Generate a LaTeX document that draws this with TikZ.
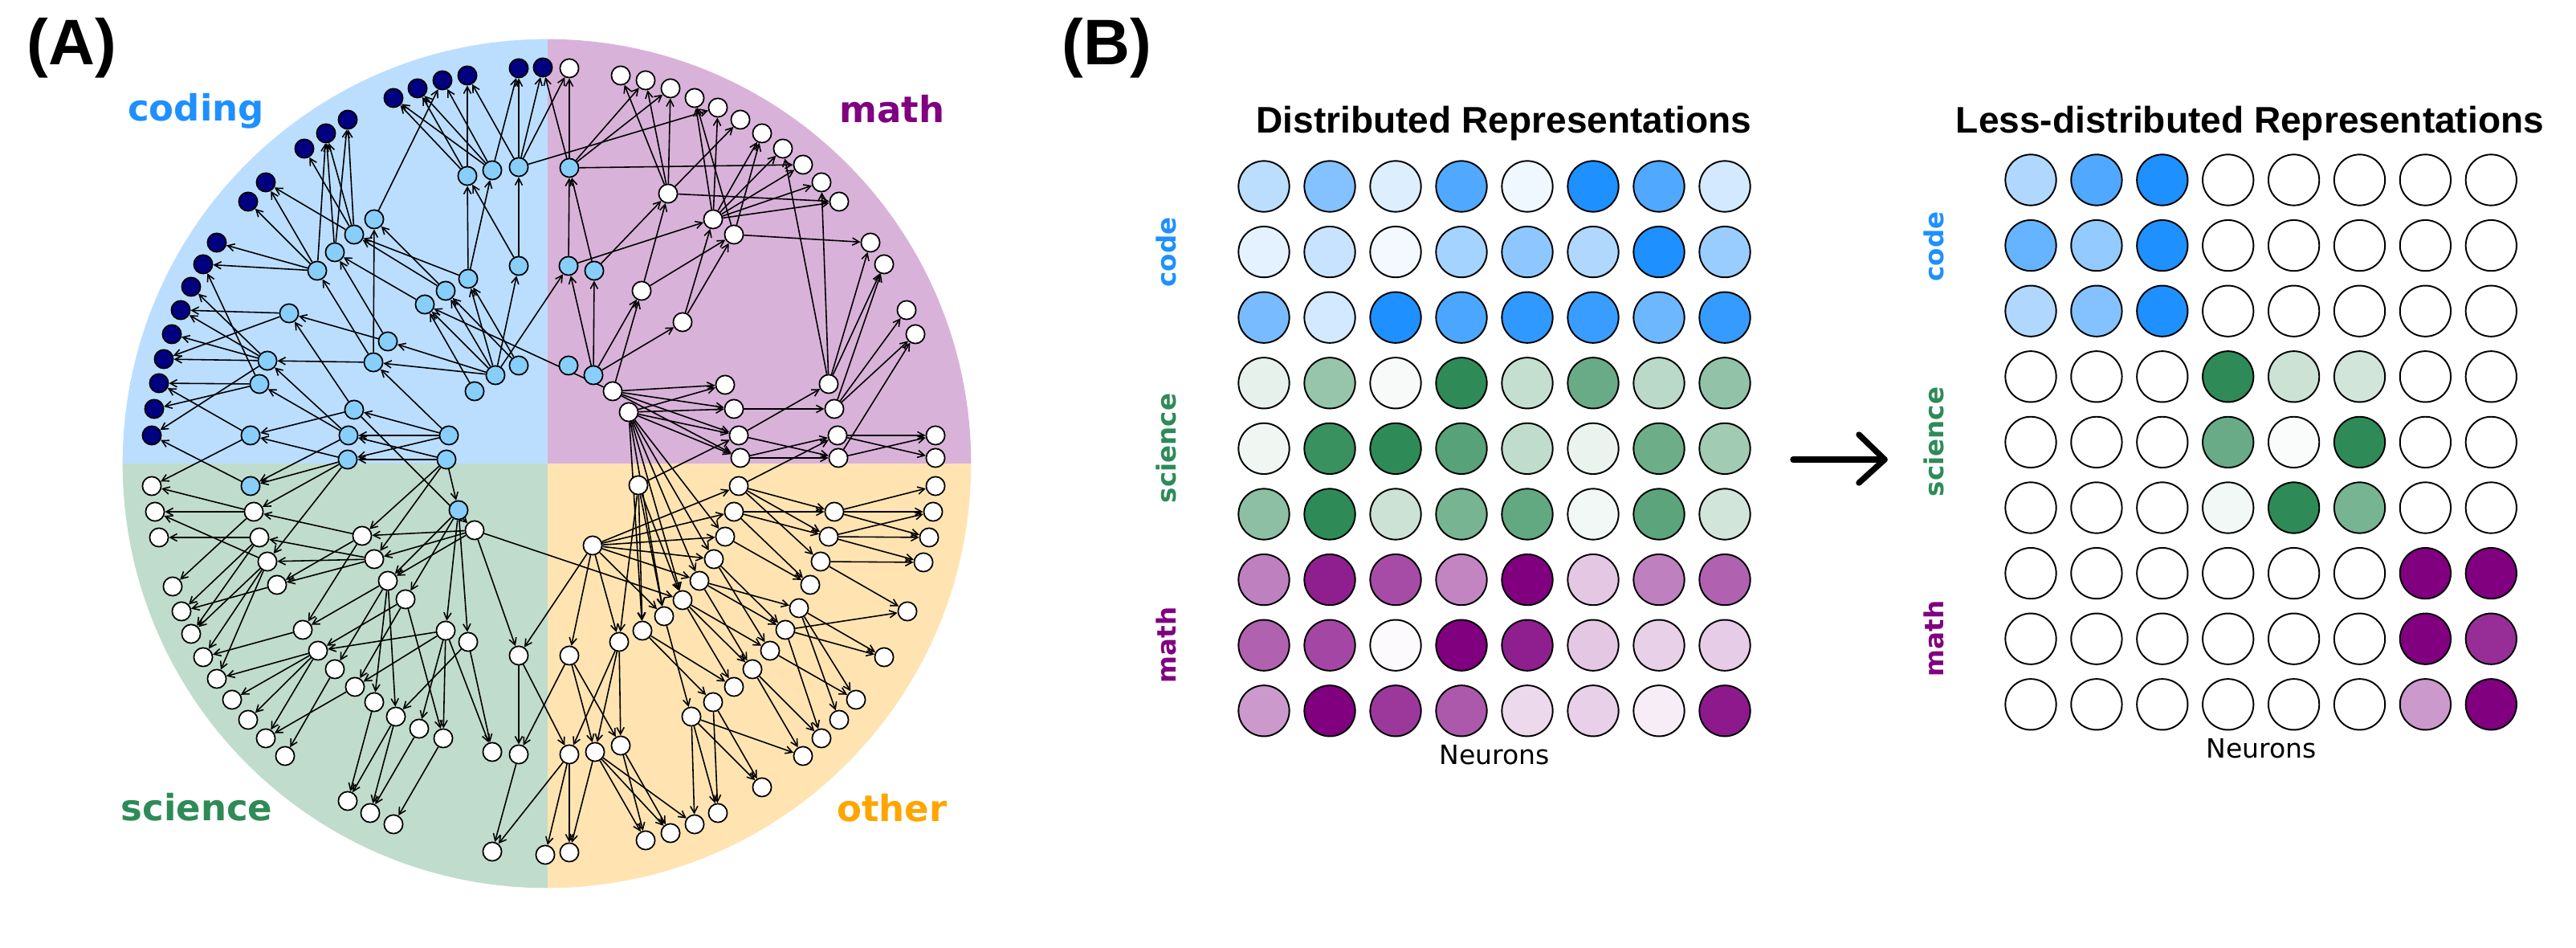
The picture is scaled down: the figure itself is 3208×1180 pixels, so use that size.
\documentclass[tikz,border=0pt]{standalone}
\usepackage{fontspec}
\setmainfont{DejaVu Sans}
\newfontfamily\arialf{Liberation Sans}
\usetikzlibrary{arrows.meta}
\definecolor{dodg}{RGB}{30,144,255}
\definecolor{seag}{RGB}{46,139,87}
\definecolor{purp}{RGB}{128,0,128}
\definecolor{orng}{RGB}{255,165,0}
\definecolor{navyc}{RGB}{0,0,128}
\definecolor{skyb}{RGB}{135,206,250}
\pgfdeclarelayer{bglayer}
\pgfdeclarelayer{edgelayer}
\pgfsetlayers{bglayer,edgelayer,main}
\tikzset{
  nd/.style={circle, draw=black, line width=0.5pt, minimum size=6.6pt, inner sep=0pt},
  dk/.style={nd, fill=navyc},
  lb/.style={nd, fill=skyb},
  wt/.style={nd, fill=white},
  edge/.style={line width=0.45pt, draw=black, -{Straight Barb[length=2.4pt,width=2.6pt]}},
  cellc/.style={circle, draw=black, line width=0.55pt, minimum size=18pt, inner sep=0pt},
  catlab/.style={anchor=base, inner sep=0pt, font={\bfseries\fontsize{12.8}{14}\selectfont}},
  vlab/.style={anchor=base, rotate=90, inner sep=0pt, font={\bfseries\fontsize{9.25}{11}\selectfont}},
  ttl/.style={anchor=base, inner sep=0pt, font={\arialf\bfseries\fontsize{13.1}{15}\selectfont}},
  neur/.style={anchor=base, inner sep=0pt, font={\fontsize{9.4}{11}\selectfont}},
  panlab/.style={anchor=base west, inner sep=0pt, font={\arialf\bfseries\fontsize{22.8}{26}\selectfont}},
  bigarrow/.style={line width=2.1pt, line cap=round, line join=round, draw=black}
}
\begin{document}
\begin{tikzpicture}[x=0.01cm,y=-0.01cm]
\useasboundingbox (0,0) rectangle (3208,1180);
\begin{pgfonlayer}{bglayer}
\fill[white] (0,0) rectangle (3208,1180);
\begin{scope}
\clip (681,577) circle[radius=5.28cm];
\fill[dodg!30] (100,0) rectangle (682,577);
\fill[purp!30] (682,0) rectangle (1300,577);
\fill[seag!30] (100,577) rectangle (682,1180);
\fill[orng!30] (682,577) rectangle (1300,1180);
\end{scope}
\end{pgfonlayer}

% ---------- panel A nodes ----------
\foreach \nm/\x/\y in {d1/490/122, d2/520/110, d3/551/100, d4/582/94, d5/646/85, d6/676/84, d7/433/149, d8/406/166, d9/379/185, d10/331/227, d11/309/251, d12/270/302, d13/253/329, d14/238/357, d15/225/386, d16/214/416, d17/204/447, d18/198/477, d19/192/509, d20/189/542}
  \node[dk] (\nm) at (\x,\y) {};
\foreach \nm/\x/\y in {c1/582/219, c2/613/212, c3/646/208, c4/466/273, c5/441/292, c6/417/314, c7/395/337, c8/583/347, c9/646/331, c10/555/362, c11/529/379, c12/360/390, c13/483/425, c14/465/451, c15/333/449, c16/323/478, c17/617/467, c18/646/455, c19/591/487, c20/441/510, c21/312/542, c22/434/542, c23/559/542, c24/433/572, c25/556/572, m1/709/209, m2/708/331, m3/740/337, m4/708/455, m5/739/467, s0/312/605, s00/571/635}
  \node[lb] (\nm) at (\x,\y) {};
\foreach \nm/\x/\y in {w1/709/85, w2/773/94, w3/804/100, w4/835/110, w5/865/122, w6/894/134, w7/922/149, w8/949/166, w9/975/185, w10/1000/205, w11/1023/227, w12/1045/251, w13/832/241, w14/888/273, w15/914/292, w16/1084/302, w17/1101/329, w18/799/362, w19/850/401, w20/1129/386, w21/1140/416, w22/763/487, w23/783/513, w24/903/479, w25/914/509, w26/1032/478, w27/1039/509, w28/920/542, w29/1043/542, w30/1165/542, w31/922/570, w32/1044/570, w33/1165/570}
  \node[wt] (\nm) at (\x,\y) {};
\foreach \nm/\x/\y in {o1/795/604, o2/920/605, o3/1165/605, o4/914/637, o5/1039/637, o6/1162/637, o7/738/679, o8/903/668, o9/1032/668, o10/1157/669, o11/889/696, o12/1022/699, o13/1150/700, o14/871/723, o15/1009/728, o16/850/747, o17/995/757, o18/1130/761, o19/827/767, o20/800/785, o21/978/784, o22/771/799, o23/709/816, o24/959/810, o25/1101/818, o26/937/833, o27/914/855, o28/888/874, o29/1066/871, o30/861/892, o31/1045/896, o32/1023/919, o33/709/939, o34/741/936, o35/773/928, o36/1000/941, o37/949/980, o38/894/1012, o39/865/1026, o40/835/1037, o41/804/1046, o42/709/1061}
  \node[wt] (\nm) at (\x,\y) {};
\foreach \nm/\x/\y in {s1/189/605, s2/193/637, s3/198/669, s4/316/637, s5/323/669, s6/333/699, s7/215/730, s8/345/728, s9/226/761, s10/238/789, s11/253/818, s12/270/845, s13/289/871, s14/309/896, s15/331/919, s16/355/941, s17/451/667, s18/466/696, s19/483/723, s20/505/746, s21/377/784, s22/396/810, s23/417/833, s24/442/855, s25/466/874, s26/493/892, s27/522/907, s28/552/919, s29/555/785, s30/583/799, s31/591/660, s32/646/816, s33/613/936, s34/646/939, s35/433/997, s36/461/1012, s37/490/1026, s38/613/1060, s39/679/1064}
  \node[wt] (\nm) at (\x,\y) {};

% ---------- panel A edges ----------
\begin{pgfonlayer}{edgelayer}
\foreach \a/\b in {c1/d4, c1/d1, c1/d2, c2/d1, c2/d2, c2/d3, c4/d3, c2/d5, c3/d5, c3/d6, c3/d4,
  c8/c1, c8/c2, c9/c3, c9/c1,
  c5/d7, c5/d8, c5/d9, c6/d8, c6/d7, c7/d8, c5/d10, c7/d10, c7/d11, c7/d12, c7/d13,
  c14/c4, c10/c4, c10/c5, c8/c5, c11/c6, c13/c6, c14/c7,
  c17/c8, c17/c10, c17/c11, c17/c9, c17/c13, c17/c14, c18/c8, c18/c10, c17/m2,
  w22/c11, c19/c11,
  c14/c15, c13/c12, c12/d15, c12/d17, c15/d16, c15/d17, c15/d15, c16/d13, c15/d14, c16/d18, c16/d19, c15/d20, c21/d18,
  c20/c21, c22/c16, c22/c15, c20/c12, c23/c20, c23/c14, c23/c22, c25/c22, c25/c24, c23/c24,
  c24/c21, c24/s0, c22/s0, c24/s4, c21/s1, s0/d20, c25/s00, c20/s31, c24/s6, c25/s17, c25/s18}
  \draw[edge] (\a) -- (\b);
\foreach \a/\b in {m1/w1, m1/w3, m1/w4, m1/w10, m1/d6, c3/w1, c3/w6, m2/m1, m3/m1, m3/w13, m2/w14,
  w13/w2, w13/w3, w13/w4, w13/w12, w13/w7,
  w14/w5, w14/w6, w14/w8, w14/w9, w14/w10, w14/w11, w14/w12,
  w15/w5, w15/w8, w15/w16,
  w26/w9, w26/w11, w26/w16, w27/w17, w26/w17, w27/w20, w27/w21, w32/w21,
  w18/w13, w18/w15, w19/w14, w19/w15,
  m5/m3, m5/m2, m5/w18, m5/w19, w22/w18,
  w22/w24, w22/w25, w22/w28, w22/w31, w23/w24, w23/w25, w23/w28, w23/w31,
  w25/w27, w28/w26, w28/w32, w31/w29, w31/w32, w29/w30, w29/w33, w32/w30}
  \draw[edge] (\a) -- (\b);
\foreach \a/\b in {o1/w28, o2/w29, o2/o5, o2/o9, o2/o12, o4/o5, o4/o9, o4/o15, o5/o3, o5/o6, o5/o10, o9/o6, o9/o10, o9/o13, o12/o13, o12/o18,
  o7/o2, o7/o4, o7/o8, o7/o11, o7/o14, o7/o19, o7/o23, o7/o22, o7/s32,
  s31/o16, o1/o20, o1/o19, o1/o22, o1/o16,
  w23/o8, w23/o11, w23/o14, w23/o16, w23/o19, w23/o20,
  o14/o17, o14/o21, o14/o26, o8/o15, o11/o21, o16/o24, o16/o27, o16/o26, o17/o25, o17/o29, o17/o31, o21/o18, o21/o25, o21/o32,
  o19/o30, o20/o28, o20/o27, o26/o32, o26/o36, o30/o36, o30/o39, o30/o38, o30/o37, o28/o38, o28/o37,
  o22/o35, o22/o33, o22/o34, o23/o34, o23/o35, o33/o42, o33/s39, o34/o41, o34/o40, o34/o39, o34/o42, o35/o41, o35/o40,
  o23/s34, s32/o33, o33/s38, o24/o29, o11/o24}
  \draw[edge] (\a) -- (\b);
\foreach \a/\b in {s4/s1, s4/s2, s4/s7, s5/s3, s5/s9, s6/s2, s6/s10, s6/s11, s6/s12, s8/s9, s17/s4, s17/s8, s18/s5, s18/s6, s18/s8,
  s31/s17, s31/s18, s31/s19, s00/s19, s00/s20, s00/s29, s00/s30, s31/s32, s19/s21, s19/s23, s19/s25, s19/s26,
  s20/s22, s20/s24, s20/s28, s17/s21, s29/s22, s29/s24, s29/s27, s29/s28, s29/s33, s30/s26, s30/s33,
  s21/s11, s22/s12, s22/s13, s22/s14, s22/s15, s23/s16, s24/s15, s25/s35, s26/s35, s26/s36, s27/s36, s28/s37,
  s32/s34, s34/s38, s5/s10}
  \draw[edge] (\a) -- (\b);
\end{pgfonlayer}

% ---------- panel A labels ----------
\node[panlab] (labA) at (33,81) {(A)};
\node[catlab, text=dodg] (labcoding) at (244,151) {coding};
\node[catlab, text=purp] (labmath) at (1111,153) {math};
\node[catlab, text=seag] (labscience) at (245,1022) {science};
\node[catlab, text=orng] (labother) at (1111,1023) {other};

% ---------- panel B ----------
\node[panlab] (labB) at (1322,81) {(B)};
\node[ttl] (ttlL) at (1873,166) {Distributed Representations};
\node[ttl] (ttlR) at (2802,166) {Less-distributed Representations};

\foreach \r/\cc/\vals in {1/dodg/{30,55,15,78,7,100,78,20}, 2/dodg/{12,25,5,40,50,35,100,45}, 3/dodg/{60,20,100,80,92,88,65,90},
  4/seag/{12,50,4,100,28,72,33,52}, 5/seag/{7,95,100,80,30,10,70,45}, 6/seag/{55,100,25,65,75,6,78,22},
  7/purp/{50,88,70,48,100,22,50,62}, 8/purp/{62,72,2,100,88,22,18,20}, 9/purp/{40,100,78,65,15,18,7,90}}{
  \foreach \v [count=\i] in \vals {
    \node[cellc, fill=\cc!\v] (L-\r-\i) at ({1574+(\i-1)*82},{232+(\r-1)*81.6}) {};
  }
}
\foreach \r/\cc/\vals in {1/dodg/{35,78,100,0,0,0,0,0}, 2/dodg/{68,48,100,0,0,0,0,0}, 3/dodg/{35,55,100,0,0,0,0,0},
  4/seag/{0,0,0,100,25,22,0,0}, 5/seag/{0,0,0,72,3,100,0,0}, 6/seag/{0,0,0,6,100,65,0,0},
  7/purp/{0,0,0,0,0,0,100,100}, 8/purp/{0,0,0,0,0,0,100,82}, 9/purp/{0,0,0,0,0,0,40,100}}{
  \foreach \v [count=\i] in \vals {
    \node[cellc, fill=\cc!\v] (R-\r-\i) at ({2529+(\i-1)*81.9},{224+(\r-1)*81.6}) {};
  }
}

\node[vlab, text=dodg] (vcodeL) at (1464,314) {code};
\node[vlab, text=seag] (vsciL) at (1464,558) {science};
\node[vlab, text=purp] (vmathL) at (1464,803) {math};
\node[vlab, text=dodg] (vcodeR) at (2420,307) {code};
\node[vlab, text=seag] (vsciR) at (2420,550) {science};
\node[vlab, text=purp] (vmathR) at (2420,795) {math};

\node[neur] (neurL) at (1861,952) {Neurons};
\node[neur] (neurR) at (2816,944) {Neurons};

\coordinate (arrS) at (2233,572);
\coordinate (arrE) at (2347,572);
\coordinate (arrH1) at (2315,541);
\coordinate (arrH2) at (2315,601);
\draw[bigarrow] (arrS) -- (arrE);
\draw[bigarrow] (arrH1) -- (arrE) -- (arrH2);
\end{tikzpicture}
\end{document}
